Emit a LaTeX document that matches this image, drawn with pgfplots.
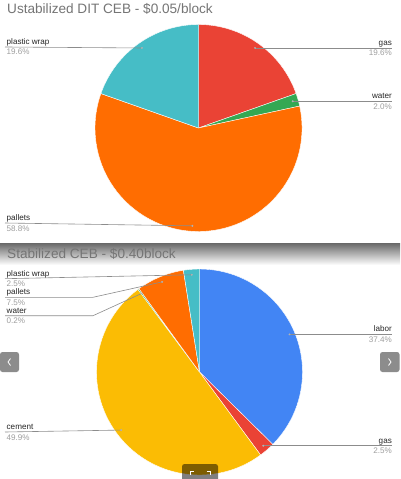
\documentclass[border=0pt]{standalone}
\usepackage{pgfplots}
\pgfplotsset{compat=1.18}
\usepackage{pgfplotstable}
\usepackage{fontspec}
\setmainfont{Liberation Sans}

\definecolor{gsblue}{HTML}{4285F4}
\definecolor{gsred}{HTML}{EA4335}
\definecolor{gsyellow}{HTML}{FBBC04}
\definecolor{gsgreen}{HTML}{34A853}
\definecolor{gsorange}{HTML}{FF6D01}
\definecolor{gscyan}{HTML}{46BDC6}
\definecolor{titlegray}{HTML}{757575}
\definecolor{pctgray}{HTML}{9E9E9E}

% unstabilized block, slices clockwise from 12 o'clock
\pgfplotstableread[col sep=comma]{
name,pct,color
gas,19.6,gsred
water,2.0,gsgreen
pallets,58.8,gsorange
plastic wrap,19.6,gscyan
}\unstab

% stabilized block
\pgfplotstableread[col sep=comma]{
name,pct,color
labor,37.4,gsblue
gas,2.5,gsred
cement,49.9,gsyellow
water,0.2,gsgreen
pallets,7.5,gsorange
plastic wrap,2.5,gscyan
}\stab

\tikzset{
  lead/.style={draw=black!45, line width=0.6bp},
  lname/.style={font=\fontsize{8.1bp}{9bp}\selectfont, text=black!85, inner sep=0pt},
  lpct/.style={font=\fontsize{8.1bp}{9bp}\selectfont, text=pctgray, inner sep=0pt},
  ptitle/.style={font=\fontsize{13.6bp}{16bp}\selectfont, text=titlegray, inner sep=0pt, anchor=base west},
}

% #1 table, #2 prefix for coordinates, #3 cx, #4 cy, #5 radius
\newcommand\drawpie[5]{%
  \coordinate (#2c) at (axis cs:#3,#4);
  \pgfplotstablegetrowsof{#1}%
  \pgfmathtruncatemacro\lastrow{\pgfplotsretval-1}%
  \gdef\pieacc{0}%
  \foreach \i in {0,...,\lastrow}{%
    \pgfplotstablegetelem{\i}{pct}\of#1\let\pct\pgfplotsretval
    \pgfplotstablegetelem{\i}{color}\of#1\let\col\pgfplotsretval
    \pgfmathsetmacro\sa{90-3.6*\pieacc}%
    \pgfmathsetmacro\sb{90-3.6*(\pieacc+\pct)}%
    \pgfmathsetmacro\sm{(\sa+\sb)/2}%
    \fill[fill=\col, draw=white, line width=0.4bp, line join=round]
      (#2c) -- ++(\sa:#5bp) arc[start angle=\sa, end angle=\sb, radius=#5bp] -- cycle;
    \pgfmathsetmacro\rr{0.947*#5}%
    \coordinate (#2\i) at ([shift={(\sm:\rr bp)}]#2c);
    \pgfmathsetmacro\newacc{\pieacc+\pct}\xdef\pieacc{\newacc}%
  }%
}

% label on the right: #1 dot coordinate, #2 name, #3 percent
\newcommand\rlabel[3]{%
  \coordinate (tmp) at (#1 -| R);
  \draw[lead] (#1) -- (tmp);
  \fill[black!30] (#1) circle[radius=1.1bp];
  \node[lname, anchor=base east] at ([yshift=2.5bp]tmp) {#2};
  \node[lpct, anchor=base east] at ([yshift=-8bp]tmp) {#3};
}
% label on the left: #1 image y of line start, #2 rest of path, #3 dot, #4 name, #5 percent
\newcommand\llabel[5]{%
  \coordinate (tmp) at (axis cs:5,#1);
  \draw[lead] (tmp) #2 -- (#3);
  \fill[black!30] (#3) circle[radius=1.1bp];
  \node[lname, anchor=base west] at ([xshift=1.5bp,yshift=2.5bp]tmp) {#4};
  \node[lpct, anchor=base west] at ([xshift=1.5bp,yshift=-8bp]tmp) {#5};
}

\begin{document}
\begin{tikzpicture}
\begin{axis}[
  x=1bp, y=1bp,
  xmin=0, xmax=400, ymin=0, ymax=479,
  y dir=reverse,
  hide axis,
]
\pgfplotsextra{
  \fill[white] (axis cs:0,0) rectangle (axis cs:400,479);
  % card shadow between the two charts
  \shade[top color=black!58, bottom color=white] (axis cs:0,243.5) rectangle (axis cs:400,265);
  \coordinate (R) at (axis cs:392,0);

  % top chart
  \node[ptitle] at (axis cs:7,13.3) {Ustabilized DIT CEB - \$0.05/block};
  \drawpie{\unstab}{A}{198.5}{128}{103.5}
  \rlabel{A0}{gas}{19.6\%}
  \rlabel{A1}{water}{2.0\%}
  \llabel{223}{}{A2}{pallets}{58.8\%}
  \llabel{47}{}{A3}{plastic wrap}{19.6\%}

  % bottom chart
  \node[ptitle] at (axis cs:7,258.3) {Stabilized CEB - \$0.40block};
  \drawpie{\stab}{B}{199.5}{372}{103}
  \rlabel{B0}{labor}{37.4\%}
  \rlabel{B1}{gas}{2.5\%}
  \llabel{432}{}{B2}{cement}{49.9\%}
  \llabel{315.7}{-- (axis cs:93,315.7)}{B3}{water}{0.2\%}
  \llabel{297.3}{-- (axis cs:93,297.3)}{B4}{pallets}{7.5\%}
  \llabel{278.7}{}{B5}{plastic wrap}{2.5\%}

  % viewer buttons
  \fill[black!45, rounded corners=2.5bp] (axis cs:0,352) rectangle (axis cs:19,372);
  \draw[white, line width=0.8bp] (axis cs:10.5,358.5) -- (axis cs:8,362) -- (axis cs:10.5,365.5);
  \fill[black!45, rounded corners=2.5bp] (axis cs:380,352) rectangle (axis cs:399.5,372);
  \draw[white, line width=0.8bp] (axis cs:388.5,358.5) -- (axis cs:391,362) -- (axis cs:388.5,365.5);
  \fill[black, opacity=0.5, rounded corners=2.5bp] (axis cs:182,464) rectangle (axis cs:218,485);
  \draw[white, line width=0.7bp] (axis cs:190,475) -- (axis cs:190,471.5) -- (axis cs:193.5,471.5);
  \draw[white, line width=0.7bp] (axis cs:206.5,471.5) -- (axis cs:210,471.5) -- (axis cs:210,475);
}
\end{axis}
\end{tikzpicture}
\end{document}
